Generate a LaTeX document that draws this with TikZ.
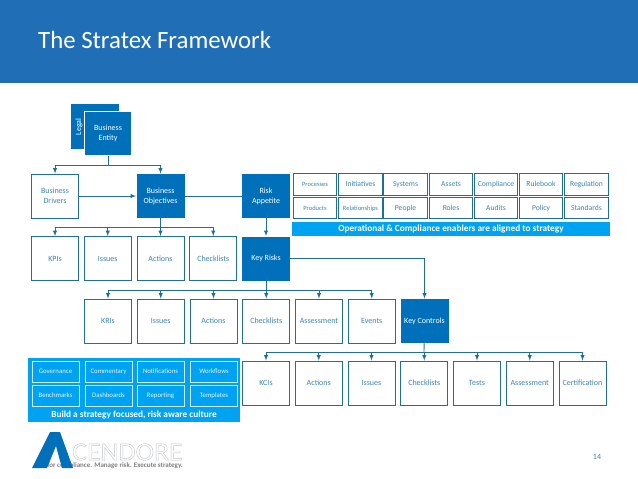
\documentclass[tikz,border=0pt]{standalone}
\usepackage{fontspec}
\setmainfont{Carlito}
\usepackage{tikz}
\usetikzlibrary{positioning, arrows}
\definecolor{stratex}{HTML}{0070BA}
\definecolor{header}{HTML}{1F6EB6}
\definecolor{enabler}{HTML}{00A2F2}
\definecolor{boxline}{HTML}{1F6F9C}
\definecolor{boxtext}{HTML}{3B85B8}
\definecolor{logoline}{HTML}{BFC3C7}
\tikzset{
  >=latex,
  x=1pt,
  y=-1pt,
  node distance=52.75pt,
  card/.style={draw=boxline, line width=0.8pt, fill=white, text=boxtext, font=\fontsize{8}{10}\selectfont,
    minimum width=47pt, minimum height=44pt, inner sep=0pt, align=center},
  solidcard/.style={card, draw=none, fill=stratex, text=white, minimum width=48pt},
  enablerbox/.style={card, minimum width=43.5pt, minimum height=21.5pt, text height=6pt, text depth=1.5pt, font=\fontsize{7.6}{9}\selectfont},
  tinybox/.style={enablerbox, font=\fontsize{6.5}{7}\selectfont},
  culturebox/.style={card, draw=white!80!enabler, fill=enabler, text=white!90!enabler, font=\fontsize{6.8}{8}\selectfont,
    minimum width=47pt, minimum height=21pt, text height=5.5pt, text depth=1.5pt},
  banner/.style={fill=enabler, text=white, font=\bfseries\fontsize{9.3}{10}\selectfont, inner sep=0pt},
  link/.style={draw=boxline, line width=0.9pt},
}

\begin{document}
\begin{tikzpicture}
      \useasboundingbox (0,0) rectangle (638,479);
      \fill[header] (0,0) rectangle (638,83);
      \node[anchor=west, text=white, font=\fontsize{24.8}{28}\selectfont, inner sep=0pt] (title) at (38,40) {The Stratex Framework};

      % top of the tree
      \node[solidcard, minimum width=48pt, minimum height=45pt] (legal) at (95,126.5) {};
      \node[text=white, rotate=90, font=\fontsize{8}{9}\selectfont, inner sep=0pt] (legaltext) at (79,127) {Legal};
      \node[solidcard, draw=white, line width=0.8pt, minimum width=47pt, minimum height=44pt] (entity) at (108,133.5) {Business\\Entity};

      \node[card] (drivers) at (55,196) {Business\\Drivers};
      \node[solidcard, right of=drivers, node distance=105.5pt] (objectives) {Business\\Objectives};
      \node[solidcard, right of=objectives, node distance=105.5pt] (appetite) {Risk\\Appetite};

      % second row
      \node[card] (kpis) at (55,258.5) {KPIs};
      \node[card, right of=kpis] (issuesa) {Issues};
      \node[card, right of=issuesa] (actionsa) {Actions};
      \node[card, right of=actionsa] (checklistsa) {Checklists};
      \node[solidcard, right of=checklistsa] (keyrisks) {Key Risks};

      % third row
      \node[card] (kris) at (108,321) {KRIs};
      \node[card, right of=kris] (issuesb) {Issues};
      \node[card, right of=issuesb] (actionsb) {Actions};
      \node[card, right of=actionsb] (checklistsb) {Checklists};
      \node[card, right of=checklistsb] (assessmentb) {Assessment};
      \node[card, right of=assessmentb] (events) {Events};
      \node[solidcard, right of=events] (keycontrols) {Key Controls};

      % fourth row
      \node[card] (kcis) at (266,383) {KCIs};
      \node[card, right of=kcis] (actionsc) {Actions};
      \node[card, right of=actionsc] (issuesc) {Issues};
      \node[card, right of=issuesc] (checklistsc) {Checklists};
      \node[card, right of=checklistsc] (tests) {Tests};
      \node[card, right of=tests] (assessmentc) {Assessment};
      \node[card, right of=assessmentc] (certification) {Certification};

      % enablers
      \node[tinybox] (processes) at (315,184.5) {Processes};
      \node[enablerbox] (initiatives) at (360.5,184.5) {Initiatives};
      \node[enablerbox] (systems) at (405.5,184.5) {Systems};
      \node[enablerbox] (assets) at (451,184.5) {Assets};
      \node[enablerbox] (compliance) at (496,184.5) {Compliance};
      \node[enablerbox] (rulebook) at (541,184.5) {Rulebook};
      \node[enablerbox] (regulation) at (586.5,184.5) {Regulation};
      \node[tinybox] (products) at (315,208) {Products};
      \node[tinybox] (relationships) at (360.5,208) {Relationships};
      \node[enablerbox] (people) at (405.5,208) {People};
      \node[enablerbox] (roles) at (451,208) {Roles};
      \node[enablerbox] (audits) at (496,208) {Audits};
      \node[enablerbox] (policy) at (541,208) {Policy};
      \node[enablerbox] (standards) at (586.5,208) {Standards};
      \node[banner, minimum width=318pt, minimum height=14pt] (enablers) at (451,229) {Operational \& Compliance enablers are aligned to strategy};

      % culture
      \fill[enabler] (28,358) rectangle (240,422);
      \node[culturebox] (governance) at (55.5,371.5) {Governance};
      \node[culturebox] (commentary) at (108.5,371.5) {Commentary};
      \node[culturebox] (notifications) at (160.5,371.5) {Notifications};
      \node[culturebox] (workflows) at (214,371.5) {Workflows};
      \node[culturebox] (benchmarks) at (55.5,395.5) {Benchmarks};
      \node[culturebox] (dashboards) at (108.5,395.5) {Dashboards};
      \node[culturebox] (reporting) at (160.5,395.5) {Reporting};
      \node[culturebox] (templates) at (214,395.5) {Templates};
      \node[banner, fill=none] (culture) at (134,415) {Build a strategy focused, risk aware culture};

      % connectors
      \coordinate (busa) at (108,165);
      \coordinate (busb) at (160.5,227);
      \coordinate (busc) at (266,290);
      \coordinate (busd) at (424,352);
      \draw[link] (entity) -- (busa);
      \foreach \n in {drivers,objectives}
        \draw[link,->] (busa) -| (\n);
      \draw[link,->] (drivers) -- (objectives);
      \draw[link] (objectives) -- (appetite);
      \draw[link,->] (appetite) -- (keyrisks);
      \draw[link] (objectives) -- (busb);
      \foreach \n in {kpis,issuesa,actionsa,checklistsa}
        \draw[link,->] (busb) -| (\n);
      \draw[link] (keyrisks) -- (busc);
      \foreach \n in {kris,issuesb,actionsb,checklistsb,assessmentb,events}
        \draw[link,->] (busc) -| (\n);
      \draw[link,->] (keyrisks) -| (keycontrols);
      \draw[link] (keycontrols) -- (busd);
      \foreach \n in {kcis,actionsc,issuesc,checklistsc,tests,assessmentc,certification}
        \draw[link,->] (busd) -| (\n);

      % logo and page number
      \node[anchor=west, text=logoline, font=\fontsize{25.5}{26}\selectfont, inner sep=0pt, xscale=1.09] (logoname) at (72,452) {\special{pdf:code q 1 Tr 0.4 w}CENDORE\special{pdf:code Q}};
      \node[anchor=east, text=gray, font=\bfseries\fontsize{7}{8}\selectfont, inner sep=0pt] (tagline) at (183,466) {for compliance. Manage risk. Execute strategy.};
      \fill[stratex] (32,468) -- (50,432) -- (60,432) -- (73,468) -- (62,468) -- (56,446) -- (47,468) -- cycle;
      \node[text=boxtext, font=\fontsize{8}{9}\selectfont, inner sep=0pt] (pagenumber) at (597,456.5) {14};
    \end{tikzpicture}
\end{document}
